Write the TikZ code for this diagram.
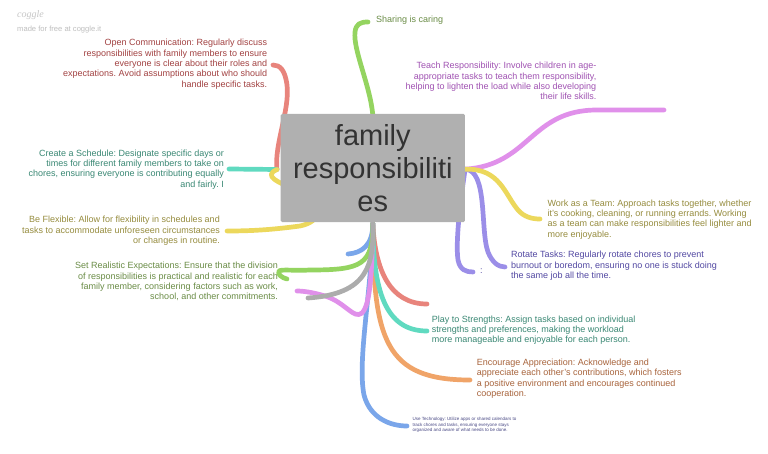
\documentclass[tikz,border=0pt]{standalone}
\usepackage{fontspec}
\setmainfont{Liberation Sans}
\newfontfamily\logofont{Liberation Serif}
\frenchspacing
\definecolor{bgreen}{RGB}{148,212,96}
\definecolor{bred}{RGB}{232,132,124}
\definecolor{bteal}{RGB}{96,218,192}
\definecolor{byellow}{RGB}{236,216,92}
\definecolor{bpink}{RGB}{224,144,234}
\definecolor{bpurple}{RGB}{155,142,232}
\definecolor{bgray}{RGB}{172,172,172}
\definecolor{bblue}{RGB}{122,166,234}
\definecolor{borange}{RGB}{240,164,104}
\definecolor{tgreen}{RGB}{106,140,70}
\definecolor{tred}{RGB}{162,66,66}
\definecolor{tpurple}{RGB}{160,82,178}
\definecolor{tteal}{RGB}{58,136,116}
\definecolor{tolive}{RGB}{150,140,62}
\definecolor{tindigo}{RGB}{82,72,162}
\definecolor{tbrown}{RGB}{168,100,60}
\definecolor{tnavy}{RGB}{72,72,132}
\definecolor{boxgray}{RGB}{176,176,176}
\definecolor{boxtext}{RGB}{51,51,51}
\begin{document}
\begin{tikzpicture}[x=1pt,y=-1pt,
  br/.style={line width=4.7pt,line cap=round,line join=round},
  lbl/.style={font=\fontsize{9}{10.4}\selectfont\frenchspacing,inner sep=0pt},
  lblr/.style={lbl,align=right,anchor=north east},
  lbll/.style={lbl,align=left,anchor=north west}]
\useasboundingbox (0,0) rectangle (768,454);
\fill[white] (0,0) rectangle (768,454);
% logo
\node[anchor=west,inner sep=0pt,font=\logofont\itshape\fontsize{10}{10}\selectfont,text=black!22] (logo) at (17,15) {coggle};
\node[anchor=west,inner sep=0pt,font=\fontsize{7.6}{8}\selectfont,text=black!25] (made) at (17,30) {made for free at coggle.it};
% central node (placed first for anchors, drawn on top later)
\path (372.8,169.2) node[minimum width=184.3pt,minimum height=108.3pt,inner sep=0pt] (c) {};
% end coordinates
\coordinate (eShare) at (368,22);
\coordinate (eOpen) at (273,65);
\coordinate (eSched) at (229,169);
\coordinate (eFlex) at (227,231);
\coordinate (eSet) at (287,279);
\coordinate (eGray) at (308,298);
\coordinate (ePink) at (297,291);
\coordinate (eStub) at (348,254);
\coordinate (eRed) at (427,304);
\coordinate (ePlay) at (427,331);
\coordinate (eEnc) at (470,380);
\coordinate (eTech) at (407,426);
\coordinate (mTeach) at (597,110);
\coordinate (eTeach) at (664,110);
\coordinate (eTeam) at (540,219);
\coordinate (eColon) at (473,272);
\coordinate (eRot) at (505,267);
\coordinate (sL) at (277,169.5);
% top
\draw[br,bgreen] (c.north) .. controls (370,85) and (353,50) .. (355,32) .. controls (356,24) and (360,22) .. (eShare);
% left
\draw[br,bred] (sL) .. controls (274,145) and (290,110) .. (287,85) .. controls (285,70) and (280,65) .. (eOpen);
\draw[br,bteal] (sL) -- (eSched);
\draw[br,byellow] (sL) .. controls (262,176) and (280,183) .. (292,188) .. controls (330,205) and (320,222) .. (300,226) .. controls (270,230) and (250,231) .. (eFlex);
% right
\draw[br,bpink] (c.east) .. controls (530,165) and (530,110) .. (mTeach) -- (eTeach);
\draw[br,bpurple] (c.east) .. controls (462,190) and (455,240) .. (458,260) .. controls (460,270) and (466,272) .. (eColon);
\draw[br,bpurple] (c.east) .. controls (488,170) and (480,230) .. (488,252) .. controls (492,262) and (498,267) .. (eRot);
\draw[br,byellow] (c.east) .. controls (500,168) and (505,195) .. (518,210) .. controls (524,217) and (532,219) .. (eTeam);
% bottom
\draw[br,bblue] (c.south) .. controls (372,290) and (357,360) .. (364,395) .. controls (370,418) and (390,426) .. (eTech);
\draw[br,borange] (c.south) .. controls (373,340) and (385,380) .. (eEnc);
\draw[br,bred] (c.south) .. controls (375,270) and (390,304) .. (eRed);
\draw[br,bteal] (c.south) .. controls (373,290) and (385,331) .. (ePlay);
\draw[br,bpink] (c.south) .. controls (372,275) and (370,305) .. (362,313) .. controls (354,320) and (345,302) .. (325,296) .. controls (312,292) and (302,291) .. (ePink);
\draw[br,bblue] (c.south) .. controls (373,245) and (362,253) .. (eStub);
\draw[br,bgreen] (c.south) .. controls (373,265) and (362,270) .. (310,270) .. controls (295,271) and (282,269) .. (279,271) .. controls (277,274) and (282,278) .. (eSet);
\draw[br,bgray] (c.south) .. controls (374,265) and (368,294) .. (eGray);
% central box drawn on top
\node[fill=boxgray,rounded corners=1.5pt,minimum width=184.3pt,minimum height=108.3pt,inner sep=0pt,
  text=boxtext,align=center,font=\fontsize{29}{33.3}\selectfont] (ctext) at (372.8,168) {family\\responsibiliti\\es};
% labels
\node[anchor=west,lbl,text=tgreen] (tShare) at (376,20) {Sharing is caring};
\node[lblr,text=tred] (tOpen) at (267.3,39) {Open Communication: Regularly discuss\\responsibilities with family members to ensure\\everyone is clear about their roles and\\expectations. Avoid assumptions about who should\\handle specific tasks.};
\node[lblr,text=tpurple] (tTeach) at (596.5,62) {Teach Responsibility: Involve children in age-\\appropriate tasks to teach them responsibility,\\helping to lighten the load while also developing\\their life skills.};
\node[lblr,text=tteal] (tSched) at (224,149.3) {Create a Schedule: Designate specific days or\\times for different family members to take on\\chores, ensuring everyone is contributing equally\\and fairly. I};
\node[lbll,text=tolive] (tTeam) at (547.3,199.3) {Work as a Team: Approach tasks together, whether\\it's cooking, cleaning, or running errands. Working\\as a team can make responsibilities feel lighter and\\more enjoyable.};
\node[lblr,text=tolive] (tFlex) at (220,216) {Be Flexible: Allow for flexibility in schedules and\\tasks to accommodate unforeseen circumstances\\or changes in routine.};
\node[lbll,text=tindigo] (tRot) at (511,251) {Rotate Tasks: Regularly rotate chores to prevent\\burnout or boredom, ensuring no one is stuck doing\\the same job all the time.};
\node[anchor=west,lbl,text=tindigo] (tColon) at (480,271) {:};
\node[lblr,text=tgreen] (tSet) at (278,262) {Set Realistic Expectations: Ensure that the division\\of responsibilities is practical and realistic for each\\family member, considering factors such as work,\\school, and other commitments.};
\node[lbll,text=tteal] (tPlay) at (431.7,315.3) {Play to Strengths: Assign tasks based on individual\\strengths and preferences, making the workload\\more manageable and enjoyable for each person.};
\node[lbll,text=tbrown] (tEnc) at (476.7,358.7) {Encourage Appreciation: Acknowledge and\\appreciate each other's contributions, which fosters\\a positive environment and encourages continued\\cooperation.};
\node[anchor=north west,inner sep=0pt,align=left,font=\fontsize{4.5}{5.6}\selectfont\frenchspacing,text=tnavy] (tTech) at (412.3,417) {Use Technology: Utilize apps or shared calendars to\\track chores and tasks, ensuring everyone stays\\organized and aware of what needs to be done.};
\end{tikzpicture}
\end{document}
